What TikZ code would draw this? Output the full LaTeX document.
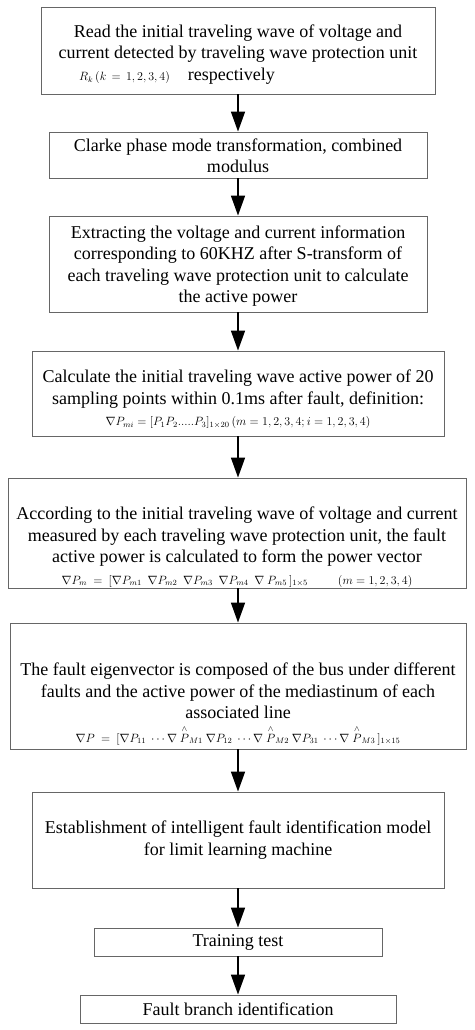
\documentclass[tikz,border=0pt]{standalone}
\usepackage{amsmath, amssymb}
\usepackage{fontspec}
\setmainfont{Liberation Serif}
\usepackage{tikz}
\usetikzlibrary{arrows.meta, positioning}
\newcommand{\gradP}{\nabla P}
\newcommand{\formula}{\fontsize{11.5}{13}\selectfont}

\begin{document}
\begin{tikzpicture}[x=1pt,y=-1pt,>={Triangle[length=20pt,width=14pt]},
    stepbox/.style={draw=black!60,line width=0.9pt,fill=white,inner sep=0pt},
    steptext/.style={align=center,font=\fontsize{18}{21.5}\selectfont,inner sep=0pt},
    flow/.style={->,line width=1.6pt}]
  \useasboundingbox (0,0) rectangle (474,1030);
  % boxes
  \node[stepbox,minimum width=394pt,minimum height=87pt] (read) at (238,50.5) {};
  \node[stepbox,minimum width=378pt,minimum height=46pt] (clarke) at (238,155) {};
  \node[stepbox,minimum width=378pt,minimum height=96pt] (extract) at (238,264) {};
  \node[stepbox,minimum width=412pt,minimum height=85pt] (calc) at (238,393.5) {};
  \node[stepbox,minimum width=458pt,minimum height=110pt] (vector) at (237,533) {};
  \node[stepbox,minimum width=456pt,minimum height=126pt] (eigen) at (238,686) {};
  \node[stepbox,minimum width=412pt,minimum height=96pt] (model) at (238,840) {};
  \node[stepbox,minimum width=288pt,minimum height=28pt] (train) at (238,942) {};
  \node[stepbox,minimum width=316pt,minimum height=28pt] (branch) at (238,1009) {};
  % texts
  \node[steptext,yshift=-4pt] (readtxt) at (read.center) {Read the initial traveling wave of voltage and\\
    current detected by traveling wave protection unit\\
    {\formula$R_k\,(k\,=\,1,2,3,4)$}\quad respectively\hspace*{122pt}};
  \node[steptext,yshift=-1pt] (clarketxt) at (clarke.center) {Clarke phase mode transformation, combined\\ modulus};
  \node[steptext,yshift=-2pt] (extracttxt) at (extract.center) {Extracting the voltage and current information\\
    corresponding to 60KHZ after S-transform of\\
    each traveling wave protection unit to calculate\\ the active power};
  \node[steptext,yshift=-6pt] (calctxt) at (calc.center) {Calculate the initial traveling wave active power of 20\\
    sampling points within 0.1ms after fault, definition:\\
    {\formula$\gradP_{mi}=[P_1P_2.....P_3]_{1\times 20}\,(m=1,2,3,4;i=1,2,3,4)$}};
  \node[steptext,yshift=-14pt] (vectortxt) at (vector.center) {According to the initial traveling wave of voltage and current\\
    measured by each traveling wave protection unit, the fault\\
    active power is calculated to form the power vector\\
    {\formula$\gradP_m\ =\ [\gradP_{m1}\ \ \gradP_{m2}\ \ \gradP_{m3}\ \ \gradP_{m4}\ \ \nabla\ P_{m5}\,]_{1\times 5}$\hspace{30pt}{\fontsize{13}{13}\selectfont$(m=1,2,3,4)$}}};
  \node[steptext,yshift=-18pt] (eigentxt) at (eigen.center) {The fault eigenvector is composed of the bus under different\\
    faults and the active power of the mediastinum of each\\
    associated line\\[2pt]
    {\formula$\gradP\ =\ [\gradP_{11}\ \cdots\nabla\ \overset{\wedge}{P}_{M1}\ \gradP_{12}\ \cdots\nabla\ \overset{\wedge}{P}_{M2}\ \gradP_{31}\ \cdots\nabla\ \overset{\wedge}{P}_{M3}\,]_{1\times 15}$}};
  \node[steptext] (modeltxt) at (model.center) {Establishment of intelligent fault identification model\\
    for limit learning machine};
  \node[steptext] (traintxt) at (train.center) {Training test};
  \node[steptext] (branchtxt) at (branch.center) {Fault branch identification};
  % arrows
  \draw[flow] (read) -- (clarke);
  \draw[flow] (clarke) -- (extract);
  \draw[flow] (extract) -- (calc);
  \draw[flow] (calc) -- (vector.north -| calc.south);
  \draw[flow] (vector.south -| calc.south) -- (eigen);
  \draw[flow] (eigen) -- (model);
  \draw[flow] (model) -- (train);
  \draw[flow] (train) -- (branch);
\end{tikzpicture}
\end{document}
